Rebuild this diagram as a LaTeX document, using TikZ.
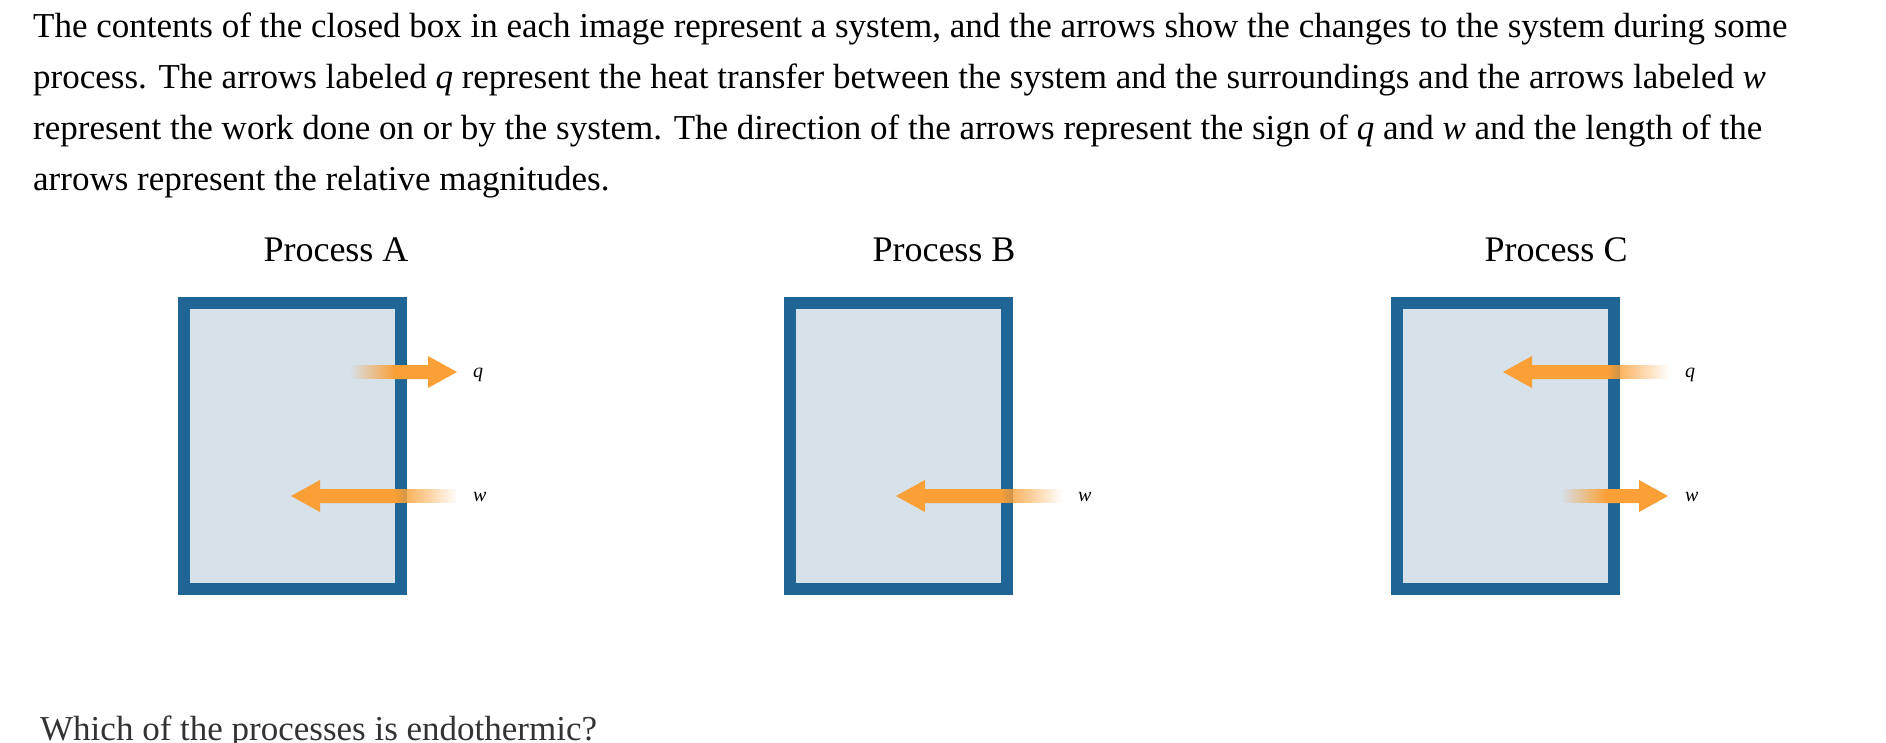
\documentclass[tikz,border=0pt]{standalone}
\usepackage{fontspec}
\setmainfont{Liberation Serif}
\usetikzlibrary{fadings}
\definecolor{boxborder}{HTML}{1F6697}
\definecolor{boxfill}{HTML}{D6E1EA}
\definecolor{arrorange}{HTML}{FBA037}
\definecolor{qtext}{HTML}{333333}
\tikzfading[name=fadeR, left color=transparent!100, right color=transparent!0]
\tikzfading[name=fadeL, left color=transparent!0, right color=transparent!100]
\tikzset{
  sysbox/.style={draw=boxborder, fill=boxfill, line width=12pt, minimum width=217pt, minimum height=286pt, inner sep=0pt},
  body/.style={anchor=base west, inner sep=0pt, font=\fontsize{35}{42}\selectfont},
  title/.style={anchor=base, inner sep=0pt, font=\fontsize{36}{42}\selectfont},
  lab/.style={anchor=base west, inner sep=0pt, font=\fontsize{20}{24}\selectfont\itshape},
  arr/.style={fill=arrorange}
}
\begin{document}
\begin{tikzpicture}[x=1pt,y=-1pt]
\useasboundingbox (0,0) rectangle (1886,742);
\node[body] (l1) at (33,37) {The contents of the closed box in each image represent a system, and the arrows show the changes to the system during some};
\node[body] (l2) at (33,88) {process. The arrows labeled \textit{q} represent the heat transfer between the system and the surroundings and the arrows labeled \textit{w}};
\node[body] (l3) at (33,139) {represent the work done on or by the system. The direction of the arrows represent the sign of \textit{q} and \textit{w} and the length of the};
\node[body] (l4) at (33,190) {arrows represent the relative magnitudes.};

\node[title] (tA) at (336,261) {Process A};
\node[title] (tB) at (944,261) {Process B};
\node[title] (tC) at (1556,261) {Process C};

\node[sysbox] (bA) at (292.5,446) {};
\node[sysbox] (bB) at (898.5,446) {};
\node[sysbox] (bC) at (1505.5,446) {};

% Process A, q out
\fill[arr, path fading=fadeR] (350,365) rectangle (395,379);
\fill[arr] (394,365) -- (428,365) -- (428,356) -- (457,372) -- (428,388) -- (428,379) -- (394,379) -- cycle;
\node[lab] (qA) at (473,377) {q};
% Process A, w in
\fill[arr, path fading=fadeL] (395,489) rectangle (457,503);
\fill[arr] (396,489) -- (320,489) -- (320,480) -- (291,496) -- (320,512) -- (320,503) -- (396,503) -- cycle;
\node[lab] (wA) at (473,501) {w};

% Process B, w in
\fill[arr, path fading=fadeL] (1000,489) rectangle (1062,503);
\fill[arr] (1001,489) -- (925,489) -- (925,480) -- (896,496) -- (925,512) -- (925,503) -- (1001,503) -- cycle;
\node[lab] (wB) at (1078,501) {w};

% Process C, q in
\fill[arr, path fading=fadeL] (1607,365) rectangle (1669,379);
\fill[arr] (1608,365) -- (1532,365) -- (1532,356) -- (1503,372) -- (1532,388) -- (1532,379) -- (1608,379) -- cycle;
\node[lab] (qC) at (1685,377) {q};
% Process C, w out
\fill[arr, path fading=fadeR] (1561,489) rectangle (1606,503);
\fill[arr] (1605,489) -- (1639,489) -- (1639,480) -- (1668,496) -- (1639,512) -- (1639,503) -- (1605,503) -- cycle;
\node[lab] (wC) at (1685,501) {w};

\node[body, text=qtext] (ques) at (40,740) {Which of the processes is endothermic?};
\end{tikzpicture}
\end{document}
